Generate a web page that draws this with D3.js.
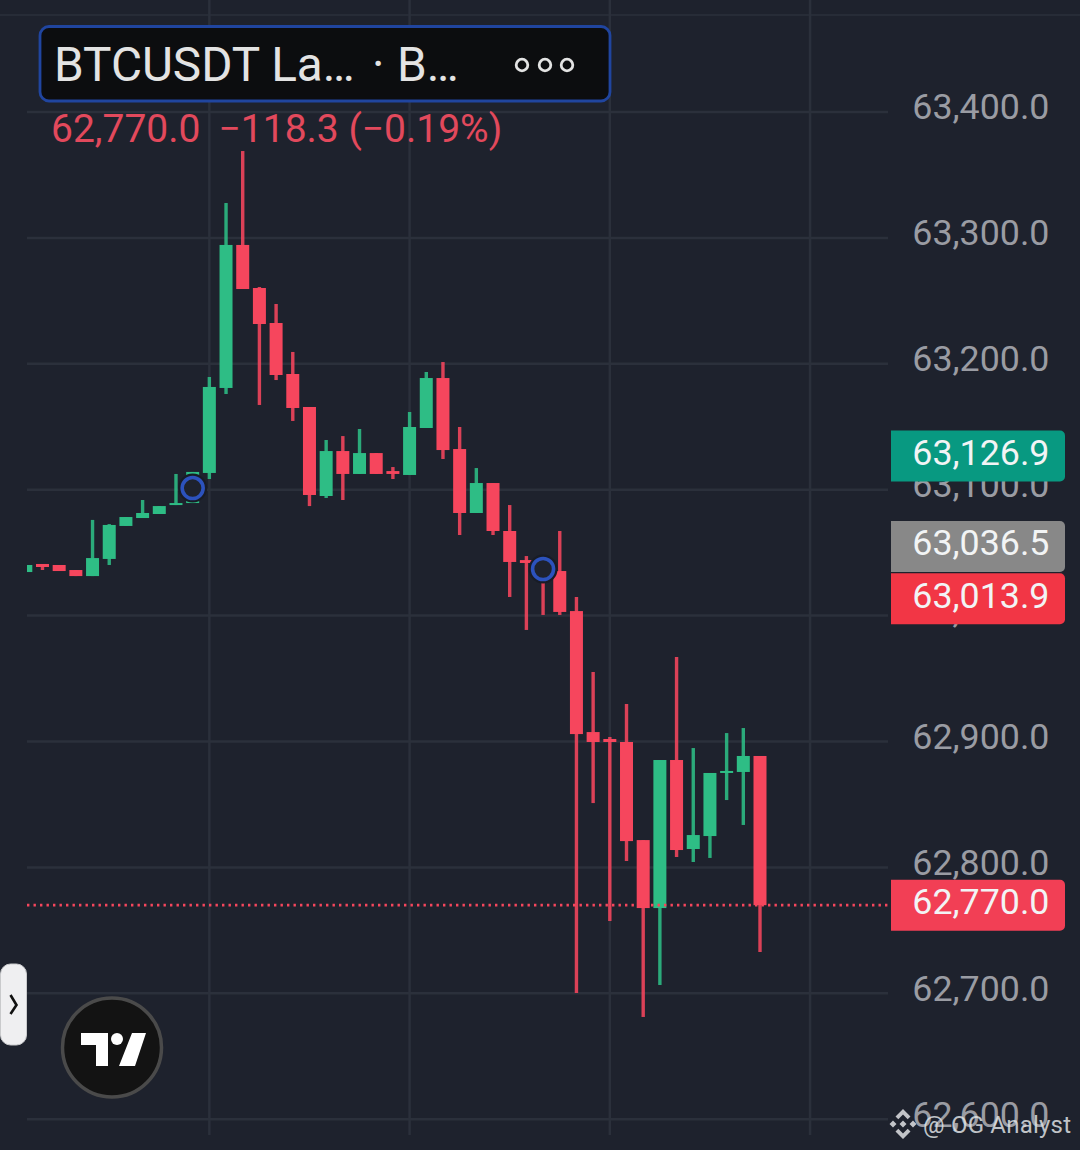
<!DOCTYPE html>
<html><head><meta charset="utf-8">
<script src="https://cdnjs.cloudflare.com/ajax/libs/d3/7.8.5/d3.min.js"></script>
<style>html,body{margin:0;padding:0;background:#1e222d;overflow:hidden}svg{display:block}text{font-family:Roboto,sans-serif}</style>
</head><body><svg id="c" width="1080" height="1150"></svg>
<script>
const opens=[63034.6,63041.0,63040.2,63036.2,63031.4,63045.0,63071.2,63077.5,63080.7,63087.8,63089.4,63113.3,63180.8,63294.4,63260.2,63232.4,63191.9,63165.7,63095.0,63130.7,63112.5,63129.1,63114.8,63111.7,63149.0,63188.7,63132.3,63081.5,63105.3,63067.2,63044.1,63042.6,63035.4,63003.6,62907.5,62902.0,62899.6,62821.7,62767.7,62885.3,62814.6,62824.9,62875.0,62875.8,62888.5];
const highs=[63040.2,63041.0,63040.2,63036.2,63076.0,63072.7,63078.3,63091.8,63087.0,63112.5,63114.1,63189.5,63327.7,63369.0,63261.0,63247.5,63209.4,63165.7,63139.5,63142.6,63148.2,63129.1,63118.0,63161.7,63193.5,63201.4,63149.8,63117.2,63105.3,63087.8,63047.3,63042.6,63067.2,63014.8,62955.2,62903.6,62929.8,62821.7,62885.3,62967.1,62894.8,62875.0,62906.7,62910.7,62888.5];
const lows=[63034.6,63036.2,63035.4,63031.4,63031.4,63040.2,63071.2,63077.5,63080.7,63087.8,63089.4,63108.5,63176.0,63259.4,63167.3,63187.1,63154.6,63087.0,63093.4,63091.8,63112.5,63112.5,63108.5,63111.7,63149.0,63124.4,63064.0,63081.5,63064.0,63014.8,62988.6,63000.5,63000.5,62700.2,62851.1,62757.4,62805.1,62681.2,62706.6,62808.3,62804.3,62807.5,62853.5,62833.7,62732.8];
const closes=[63040.2,63038.6,63035.4,63031.4,63045.7,63072.0,63078.3,63081.5,63087.0,63089.4,63114.1,63181.6,63294.4,63259.4,63231.6,63191.1,63164.9,63095.8,63130.7,63112.5,63129.1,63112.5,63112.5,63149.8,63188.7,63131.5,63081.5,63105.3,63067.2,63042.6,63041.8,63034.6,63002.9,62905.9,62899.6,62899.6,62820.9,62767.7,62885.3,62813.8,62825.7,62875.0,62876.6,62888.5,62770.0];
const priceTicks=[63400,63300,63200,63100,63000,62900,62800,62700,62600];
const timeGridIdx=[11,23,35,47];
const markerIdx=[10,31];
const markerPrices=[63101.3,63037];
const priceTags=[63126.9,63036.5,63013.9,62770.0];
const tagColors=["#089981","#888888","#f23645","#f23f55"];
const titleParts=["BTCUSDT La…","·","B…"];
const legendParts=["62,770.0","−118.3 (−0.19%)"];
const watermark="@ OG Analyst";

const BG="#1e222d",GREEN="#2ebd85",RED="#f6465d",GRID="#2b303b";
const svg=d3.select("#c");
svg.append("rect").attr("width",1080).attr("height",1150).attr("fill",BG);
const x=d3.scaleLinear().domain([0,44]).range([25.8,760]);
const y=d3.scaleLinear().domain([63400,62600]).range([112,1119.2]);
const fmt=d3.format(",.1f");

svg.append("line").attr("x1",0).attr("x2",1080).attr("y1",15).attr("y2",15).attr("stroke","#272c37").attr("stroke-width",2);

const gv=svg.append("g").attr("transform","translate(0,1135)")
 .call(d3.axisBottom(x).tickValues(timeGridIdx).tickSize(-1135).tickFormat("").offset(0));
gv.select(".domain").remove();
gv.selectAll("line").attr("stroke",GRID).attr("stroke-width",2.5);

const gh=svg.append("g").attr("transform","translate(888,0)")
 .call(d3.axisLeft(y).tickValues(priceTicks).tickSize(861).tickFormat("").offset(0));
gh.select(".domain").remove();
gh.selectAll("line").attr("stroke",GRID).attr("stroke-width",2.5);

const ax=svg.append("g").attr("transform","translate(1049.5,-4.7)")
 .call(d3.axisLeft(y).tickValues(priceTicks).tickSize(0).tickPadding(0).tickFormat(fmt).offset(0));
ax.select(".domain").remove();
ax.selectAll("text").attr("fill","#9a9ca3").attr("font-size",35.8).attr("text-anchor","end").attr("dy","0.34em");

svg.append("clipPath").attr("id","pane").append("rect").attr("x",27).attr("y",0).attr("width",861).attr("height",1135);
const pane=svg.append("g").attr("clip-path","url(#pane)");
const data=opens.map((o,i)=>({i,o,h:highs[i],l:lows[i],c:closes[i]}));
const col=d=>d.c>=d.o?GREEN:RED;
pane.selectAll("line.w").data(data).join("line").attr("class","w")
 .attr("x1",d=>x(d.i)).attr("x2",d=>x(d.i)).attr("y1",d=>y(d.h)).attr("y2",d=>y(d.l))
 .attr("stroke",col).attr("stroke-width",3.4).attr("stroke-opacity",.88);
pane.selectAll("rect.b").data(data).join("rect").attr("class","b")
 .attr("x",d=>x(d.i)-6.5).attr("width",13)
 .attr("y",d=>y(Math.max(d.o,d.c))).attr("height",d=>Math.max(2,Math.abs(y(d.o)-y(d.c))))
 .attr("fill",col);

pane.append("line").attr("x1",27).attr("x2",888).attr("y1",y(closes[44])).attr("y2",y(closes[44]))
 .attr("stroke",RED).attr("stroke-width",2.6).attr("stroke-dasharray","2.4 4.1");

markerIdx.forEach((m,k)=>{
 svg.append("circle").attr("cx",x(m)).attr("cy",y(markerPrices[k])).attr("r",10.5)
  .attr("fill",BG).attr("stroke","#181c26").attr("stroke-width",8);
 svg.append("circle").attr("cx",x(m)).attr("cy",y(markerPrices[k])).attr("r",10.5)
  .attr("fill",BG).attr("stroke","#2c52bd").attr("stroke-width",3.6);
});

const tagY=[456,546.5,598.8,905.5];
priceTags.forEach((p,k)=>{
 const cy=k===3?y(p):tagY[k];
 svg.append("path").attr("fill",tagColors[k])
  .attr("d",`M891 ${cy-25.5}H1060a5 5 0 0 1 5 5V${cy+20.5}a5 5 0 0 1 -5 5H891Z`);
 svg.append("text").attr("x",1049.5).attr("y",cy-3.3).attr("dy","0.34em").attr("text-anchor","end")
  .attr("font-size",35.8).attr("fill","#f2f4f5").text(fmt(p));
});

// legend
svg.append("rect").attr("x",40).attr("y",26.5).attr("width",570).attr("height",74.5).attr("rx",9)
 .attr("fill","#0c0d0f").attr("stroke","#20459f").attr("stroke-width",2.8);
const tc="#e3e3e3";
svg.append("text").attr("x",54).attr("y",81).attr("font-size",47.7).attr("fill",tc).text(titleParts[0]);
svg.append("text").attr("x",372).attr("y",81).attr("font-size",47.7).attr("fill",tc).text(titleParts[1]);
svg.append("text").attr("x",397).attr("y",81).attr("font-size",47.7).attr("fill",tc).text(titleParts[2]);
[522,545,567].forEach(cx=>svg.append("circle").attr("cx",cx).attr("cy",65).attr("r",5.8).attr("fill","none").attr("stroke",tc).attr("stroke-width",2.8));
svg.append("text").attr("x",51).attr("y",142).attr("font-size",39).attr("fill","#e2495c").text(legendParts[0]);
svg.append("text").attr("x",218.5).attr("y",142).attr("font-size",39).attr("fill","#e2495c").text(legendParts[1]);

// side pill
svg.append("rect").attr("x",0.5).attr("y",964).attr("width",26).attr("height",81).attr("rx",10).attr("fill","#efeff1").attr("stroke","#c9cacc").attr("stroke-width",1);
svg.append("path").attr("d","M10.5 995L16.5 1005L10.5 1014").attr("fill","none").attr("stroke","#111").attr("stroke-width",2.6);

// logo
svg.append("circle").attr("cx",112).attr("cy",1047.5).attr("r",49.5).attr("fill","#131313").attr("stroke","#4a4a4a").attr("stroke-width",3.5);
svg.append("path").attr("fill","#fff").attr("d","M81 1033H108V1066H96V1045H81Z M132 1033H146L135 1066H119Z");
svg.append("circle").attr("cx",117).attr("cy",1039).attr("r",6).attr("fill","#fff");

// watermark
const wm=svg.append("g").attr("fill","#dfe1e4").attr("fill-opacity",.85);
wm.append("path").attr("d","M903 1109l7.5 7.5-2.8 2.8-4.7-4.7-4.7 4.7-2.8-2.8Z M903 1139l-7.5-7.5 2.8-2.8 4.7 4.7 4.7-4.7 2.8 2.8Z M893 1120.5l3.5 3.5-3.5 3.5-3.5-3.5Z M913 1120.5l3.5 3.5-3.5 3.5-3.5-3.5Z M903 1120.5l3.5 3.5-3.5 3.5-3.5-3.5Z");
wm.append("text").attr("x",923).attr("y",1133).attr("font-size",24).attr("textLength",148).text(watermark);
</script></body></html>
